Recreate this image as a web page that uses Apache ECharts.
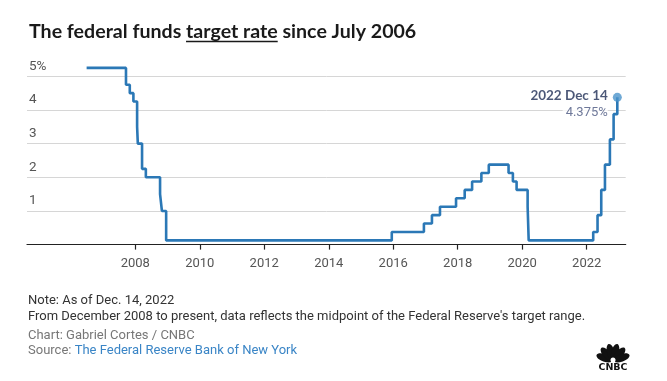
<!DOCTYPE html>
<html>
<head>
<meta charset="utf-8">
<script src="https://cdn.jsdelivr.net/npm/echarts@6/dist/echarts.min.js"></script>
<style>
html,body{margin:0;padding:0;background:#fff;}
#chart{width:667px;height:381px;}
</style>
</head>
<body>
<div id="chart"></div>
<script>
// ---- data ----
const changeDates = ['2006-06-29','2007-09-18','2007-10-31','2007-12-11','2008-01-22','2008-01-30','2008-03-18','2008-04-30','2008-10-08','2008-10-29','2008-12-16','2015-12-16','2016-12-14','2017-03-15','2017-06-14','2017-12-13','2018-03-21','2018-06-13','2018-09-26','2018-12-19','2019-07-31','2019-09-18','2019-10-30','2020-03-03','2020-03-15','2022-03-16','2022-05-04','2022-06-15','2022-07-27','2022-09-21','2022-11-02','2022-12-14'];
const targetRates = [5.25,4.75,4.5,4.25,3.5,3.0,2.25,2.0,1.5,1.0,0.125,0.375,0.625,0.875,1.125,1.375,1.625,1.875,2.125,2.375,2.125,1.875,1.625,1.125,0.125,0.375,0.875,1.625,2.375,3.125,3.875,4.375];
const tickYears = [2008,2010,2012,2014,2016,2018,2020,2022];
const yTicks = [0,1,2,3,4,5];
const lastLabel = '2022 Dec 14';
const lastValueLabel = '4.375%';

const titleText = 'The federal funds ';
const titleUnderlined = 'target rate';
const titleRest = ' since July 2006';
const note1 = 'Note: As of Dec. 14, 2022';
const note2 = "From December 2008 to present, data reflects the midpoint of the Federal Reserve's target range.";
const credit = 'Chart: Gabriel Cortes / CNBC';
const sourceLabel = 'Source: ';
const sourceName = 'The Federal Reserve Bank of New York';

// ---- helpers ----
function ts(s){ const p = s.split('-').map(Number); return Date.UTC(p[0], p[1]-1, p[2]); }
function decYear(y){ const f = Math.floor(y); const a = Date.UTC(f,0,1), b = Date.UTC(f+1,0,1); return a + (y-f)*(b-a); }

const lineData = changeDates.map((d,i)=>[ts(d), targetRates[i]]);
const lastPt = lineData[lineData.length-1];

const xMin = decYear(2004.641);
const xMax = decYear(2023.211);

const titleFont = 'bold 19.6px Lato';
const ctx = document.createElement('canvas').getContext('2d');
ctx.font = titleFont;
const w1 = ctx.measureText(titleText).width;
const w2 = ctx.measureText(titleUnderlined).width;

const chart = echarts.init(document.getElementById('chart'), null, {renderer:'canvas'});
const gridTop = 76.3, gridBottomY = 244.6;

chart.setOption({
  animation:false,
  backgroundColor:'#fff',
  grid:{left:27, right:41.3, top:gridTop, bottom:381-gridBottomY, containLabel:false},
  xAxis:{
    type:'value', min:xMin, max:xMax,
    axisLine:{show:true, lineStyle:{color:'#222', width:1.2}},
    axisTick:{show:true, length:5, lineStyle:{color:'#222', width:1.2}, customValues: tickYears.map(y=>Date.UTC(y,0,1))},
    axisLabel:{customValues: tickYears.map(y=>Date.UTC(y,0,1)), formatter:v=>String(new Date(v).getUTCFullYear()), color:'#555', fontSize:13, fontFamily:'Roboto', margin:13},
    splitLine:{show:false}
  },
  yAxis:{
    type:'value', min:0, max:5, interval:1,
    axisLine:{show:false}, axisTick:{show:false},
    axisLabel:{inside:true, margin:2, verticalAlign:'bottom', padding:[0,0,3,0], color:'#555', fontSize:13.5, fontFamily:'Roboto',
      customValues: yTicks,
      formatter:v=> v===0 ? '' : (v===5 ? v+'%' : String(v))},
    splitLine:{show:true, lineStyle:{color:'#d6d6d6', width:1}}
  },
  series:[
    {type:'line', data:lineData, step:'end', showSymbol:false, clip:false,
     lineStyle:{color:'#2b78b6', width:2.6}, z:3},
    {type:'scatter', data:[lastPt], symbolSize:9, itemStyle:{color:'#4b93ca'}, z:4,
     label:{show:true, position:'left', distance:5, offset:[0,7], align:'right',
       formatter:'{a|'+lastLabel+'}\n{b|'+lastValueLabel+'}',
       rich:{
         a:{fontFamily:'Lato', fontWeight:'bold', fontSize:13.5, color:'#1e2d55', lineHeight:16.5, align:'right'},
         b:{fontFamily:'Roboto', fontSize:13, color:'#4a5680', lineHeight:16.5, backgroundColor:'#fff', padding:[0,0,0,3], align:'right'}
       }}}
  ],
  graphic:[
    {type:'text', left:29, top:22, z:10, style:{text:titleText+titleUnderlined+titleRest, font:titleFont, fill:'#1a1a1a'}},
    {type:'line', z:10, shape:{x1:29+w1, y1:41.5, x2:29+w1+w2, y2:41.5}, style:{stroke:'#1a1a1a', lineWidth:1.4}},
    {type:'text', left:28, top:294, style:{text:note1, font:'13px Roboto', fill:'#333'}},
    {type:'text', left:28, top:310, style:{text:note2, font:'13px Roboto', fill:'#333'}},
    {type:'text', left:28, top:329, style:{text:credit, font:'13px Roboto', fill:'#777'}},
    {type:'text', left:28, top:344, style:{text:'{s|'+sourceLabel+'}{l|'+sourceName+'}', font:'13px Roboto',
      rich:{s:{fill:'#777', fontFamily:'Roboto', fontSize:13}, l:{fill:'#3a85c6', fontFamily:'Roboto', fontSize:13}}}},
    // CNBC logo
    {type:'group', x:613, y:361, children:[
      ...[-70,-42,-14,14,42,70].map(a=>({type:'ellipse', shape:{cx:0, cy:-9, rx:3.8, ry:8.5}, rotation:-a*Math.PI/180, originX:0, originY:0, style:{fill:'#111'}})),
      {type:'circle', shape:{cx:0, cy:-1, r:2.5}, style:{fill:'#fff'}},
      {type:'text', x:0, y:2, style:{text:'CNBC', font:'bold 9.5px "DejaVu Sans"', fill:'#111', align:'center', verticalAlign:'top'}}
    ]}
  ]
});
</script>
</body>
</html>
